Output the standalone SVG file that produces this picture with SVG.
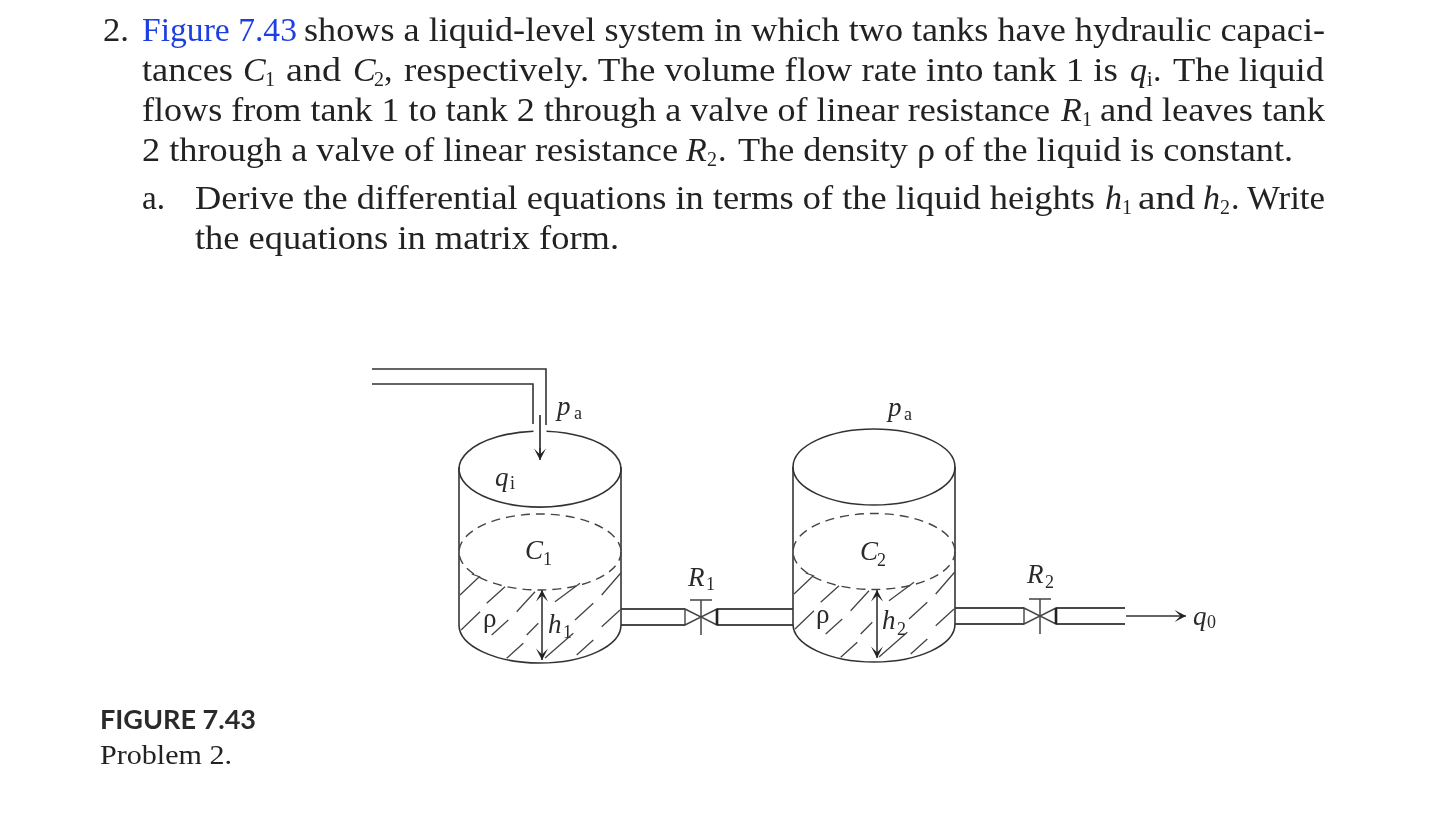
<svg xmlns="http://www.w3.org/2000/svg" width="1430" height="818" viewBox="0 0 1430 818">
<style>
.t{font-family:"Liberation Serif",serif;font-size:34px;fill:#242424;}
.i{font-style:italic;}
.s{font-size:20px;}
.b{fill:#1f3fe0;}
.d{font-family:"Liberation Serif",serif;font-size:27px;fill:#2a2a2a;}
.ds{font-family:"Liberation Serif",serif;font-size:18px;fill:#2a2a2a;}
.h{font-family:"Lato",sans-serif;font-weight:bold;font-size:26px;fill:#2a2a2a;}
.l{fill:none;stroke:#333;stroke-width:1.6;}
.p{fill:none;stroke:#4a4a4a;stroke-width:1.9;}
.da{fill:none;stroke:#444;stroke-width:1.4;stroke-dasharray:9 6;}
.ha{fill:none;stroke:#444;stroke-width:1.3;}
.w{fill:#fff;stroke:#444;stroke-width:1.4;}
</style>
<defs>
<filter id="soft" x="0" y="0" width="100%" height="100%"><feGaussianBlur stdDeviation="0.4"/></filter>
<marker id="ah" markerWidth="14" markerHeight="14" refX="12" refY="6" orient="auto" markerUnits="userSpaceOnUse"><path d="M0.5,0 L12,6 L0.5,12 L6.5,6 Z" fill="#222"/></marker>
<marker id="ahs" markerWidth="14" markerHeight="14" refX="12" refY="6" orient="auto-start-reverse" markerUnits="userSpaceOnUse"><path d="M0.5,0 L12,6 L0.5,12 L6.5,6 Z" fill="#222"/></marker>
<path id="hatch" class="ha" d="M460,595 L479.3,576.7 L471.7,574 M461,630 L480,611.7 M486.7,603.3 L505,586.7 M491.7,635 L508.3,620 M506.7,658.3 L523.3,643.3 M516.7,611.7 L535,591.7 M526.7,635 L538.3,623.3 M545,658 L573.3,633.3 M555,601.7 L580,583.3 M575,620 L593.3,603.3 M576.7,655 L593.3,640 M601.7,626.7 L620,610 M601.7,595 L621,572.7"/>
<g id="valve">
<path class="w" d="M-16,-8 V8 L0,0 Z M16,-8 V8 L0,0 Z"/>
<path d="M16,-8 V8" fill="none" stroke="#222" stroke-width="2.6"/>
<path d="M0,-17 V18 M-11,-17 H11" fill="none" stroke="#444" stroke-width="1.5"/>
</g>
</defs>
<rect width="1430" height="818" fill="#fff"/>
<g filter="url(#soft)">
<g id="text">
<text class="t" x="103" y="41" textLength="26" lengthAdjust="spacingAndGlyphs">2.</text>
<text class="t b" x="142" y="41" textLength="155" lengthAdjust="spacingAndGlyphs">Figure 7.43</text>
<text class="t" x="304" y="41" textLength="1021" lengthAdjust="spacingAndGlyphs">shows a liquid-level system in which two tanks have hydraulic capaci-</text>

<text class="t" x="142" y="81" textLength="91" lengthAdjust="spacingAndGlyphs">tances</text>
<text class="t i" x="243" y="81">C</text><text class="t s" x="265" y="86">1</text>
<text class="t" x="286" y="81" textLength="55" lengthAdjust="spacingAndGlyphs">and</text>
<text class="t i" x="353" y="81">C</text><text class="t s" x="374" y="86">2</text><text class="t" x="384" y="81">,</text>
<text class="t" x="404" y="81" textLength="714" lengthAdjust="spacingAndGlyphs">respectively. The volume flow rate into tank 1 is</text>
<text class="t i" x="1130" y="81">q</text><text class="t s" x="1147" y="86">i</text><text class="t" x="1153" y="81">.</text>
<text class="t" x="1173" y="81" textLength="151" lengthAdjust="spacingAndGlyphs">The liquid</text>

<text class="t" x="142" y="121" textLength="908" lengthAdjust="spacingAndGlyphs">flows from tank 1 to tank 2 through a valve of linear resistance</text>
<text class="t i" x="1061" y="121">R</text><text class="t s" x="1082" y="126">1</text>
<text class="t" x="1100" y="121" textLength="225" lengthAdjust="spacingAndGlyphs">and leaves tank</text>

<text class="t" x="142" y="161" textLength="536" lengthAdjust="spacingAndGlyphs">2 through a valve of linear resistance</text>
<text class="t i" x="686" y="161">R</text><text class="t s" x="707" y="166">2</text><text class="t" x="718" y="161">.</text>
<text class="t" x="738" y="161" textLength="555" lengthAdjust="spacingAndGlyphs">The density ρ of the liquid is constant.</text>

<text class="t" x="142" y="209" textLength="23" lengthAdjust="spacingAndGlyphs">a.</text>
<text class="t" x="195" y="209" textLength="900" lengthAdjust="spacingAndGlyphs">Derive the differential equations in terms of the liquid heights</text>
<text class="t i" x="1105" y="209">h</text><text class="t s" x="1122" y="214">1</text>
<text class="t" x="1138" y="209" textLength="57" lengthAdjust="spacingAndGlyphs">and</text>
<text class="t i" x="1203" y="209">h</text><text class="t s" x="1220" y="214">2</text><text class="t" x="1231" y="209">.</text>
<text class="t" x="1247" y="209" textLength="78" lengthAdjust="spacingAndGlyphs">Write</text>
<text class="t" x="195" y="249" textLength="424" lengthAdjust="spacingAndGlyphs">the equations in matrix form.</text>

<text class="h" x="100" y="729" textLength="156" lengthAdjust="spacingAndGlyphs">FIGURE 7.43</text>
<text class="t" style="font-size:28px" x="100" y="764" textLength="132" lengthAdjust="spacingAndGlyphs">Problem 2.</text>
</g>
<g id="connectors">
<path class="l" d="M372,369 H546 V425 M372,384 H533 V424"/>
<path class="p" d="M540,415 V458"/>
<path class="l" d="M540,448 V460" marker-end="url(#ah)"/>
<path class="p" d="M621,609 H685 M621,625 H685 M717,609 H793 M717,625 H793"/>
<path class="p" d="M955,608 H1024 M955,624 H1024 M1056,608 H1125 M1056,624 H1125"/>
<path class="l" d="M1126,616 H1186" marker-end="url(#ah)"/>
</g>
<g id="tank1">
<path class="l" d="M533.5,431.2 A81,38 0 1 0 546.5,431.2"/>
<path class="l" d="M459,467 V625 A81,38 0 0 0 621,625 V467"/>
<ellipse class="da" cx="540" cy="552" rx="81" ry="38"/>
<use href="#hatch"/>
<path class="l" d="M542,590 V660" marker-start="url(#ahs)" marker-end="url(#ahs)"/>
<text class="d i" x="557" y="415">p</text><text class="ds" x="574" y="419">a</text>
<text class="d i" x="495" y="486">q</text><text class="ds" x="510" y="489">i</text>
<text class="d i" x="525" y="559">C</text><text class="ds" x="543" y="565">1</text>
<text class="d" x="483" y="627">ρ</text>
<text class="d i" x="548" y="633">h</text><text class="ds" x="563" y="638">1</text>
</g>
<g id="tank2">
<ellipse class="l" cx="874" cy="467" rx="81" ry="38"/>
<path class="l" d="M793,467 V624 A81,38 0 0 0 955,624 V467"/>
<ellipse class="da" cx="874" cy="551.5" rx="81" ry="38"/>
<use href="#hatch" transform="translate(334,-1)"/>
<path class="l" d="M877,590 V658" marker-start="url(#ahs)" marker-end="url(#ahs)"/>
<text class="d i" x="888" y="416">p</text><text class="ds" x="904" y="420">a</text>
<text class="d i" x="860" y="560">C</text><text class="ds" x="877" y="566">2</text>
<text class="d" x="816" y="623">ρ</text>
<text class="d i" x="882" y="629">h</text><text class="ds" x="897" y="635">2</text>
</g>
<g id="valve1">
<use href="#valve" x="701" y="617"/>
<text class="d i" x="688" y="586">R</text><text class="ds" x="706" y="590">1</text>
</g>
<g id="valve2">
<use href="#valve" x="1040" y="616"/>
<text class="d i" x="1027" y="583">R</text><text class="ds" x="1045" y="588">2</text>
</g>
<g id="outlet">
<text class="d i" x="1193" y="625">q</text><text class="ds" x="1207" y="628">0</text>
</g>
</g>
</svg>
